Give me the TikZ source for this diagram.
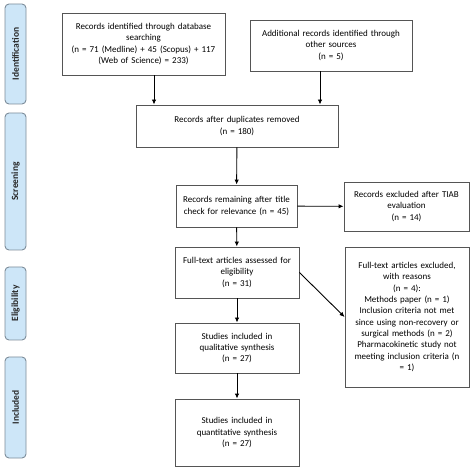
\documentclass[tikz,border=0pt]{standalone}
\usepackage{fontspec}
\setmainfont{Carlito}
\usepackage{xcolor}
\usepackage{tikz}
\usetikzlibrary{arrows.meta,positioning}
\definecolor{phasefill}{HTML}{CDE6F8}
\definecolor{phaseline}{HTML}{7D8C9A}
\definecolor{boxline}{HTML}{555555}
\tikzset{
  flowbox/.style={draw=boxline,line width=0.9pt,fill=white,align=center,inner sep=3pt,
    font=\fontsize{9}{11.3}\selectfont},
  phase/.style={draw=phaseline,line width=0.9pt,fill=phasefill,rounded corners=4pt,rotate=90,
    minimum height=21pt,inner sep=0pt,font=\fontsize{9.5}{11}\selectfont\bfseries,text=black!85},
  link/.style={-{Latex[length=5pt,width=4.5pt]},line width=0.9pt,black}
}

\begin{document}
\begin{tikzpicture}[x=1pt,y=-1pt]
  \useasboundingbox (0,0) rectangle (474,470);
  % phase labels down the left edge
  \node[phase,minimum width=100pt] (ident) at (15.5,54) {Identification};
  \node[phase,minimum width=137pt] (screen) at (15.5,181.5) {Screening};
  \node[phase,minimum width=73pt] (elig) at (15.5,303.5) {Eligibility};
  \node[phase,minimum width=101pt] (incl) at (15.5,407.5) {Included};

  % record boxes
  \node[flowbox,minimum width=163pt,minimum height=62pt,text width=157pt] (dbsearch) at (143.5,44)
    {Records identified through database\\searching\\(n = 71 (Medline) + 45 (Scopus) + 117\\(Web of Science) = 233)};
  \node[flowbox,minimum width=162pt,minimum height=51pt,text width=156pt] (other) at (331,45.5)
    {Additional records identified through\\other sources\\(n = 5)};
  \node[flowbox,minimum width=202pt,minimum height=42pt,text width=196pt] (dedup) at (237,126)
    {Records after duplicates removed\\(n = 180)};
  \node[flowbox,minimum width=121pt,minimum height=42pt,text width=115pt] (titlecheck) at (236.5,206)
    {Records remaining after title\\check for relevance (n = 45)};
  \node[flowbox,minimum width=125pt,minimum height=49pt,text width=119pt] (tiab) at (406.5,206.5)
    {Records excluded after TIAB\\evaluation\\(n = 14)};
  \node[flowbox,minimum width=124pt,minimum height=51pt,text width=118pt] (fulltext) at (237,272.5)
    {Full-text articles assessed for\\eligibility\\(n = 31)};
  \node[flowbox,minimum width=124pt,minimum height=140pt,text width=118pt] (ftexcl) at (407,317)
    {Full-text articles excluded,\\with reasons\\(n = 4):\\Methods paper (n = 1)\\Inclusion criteria not met\\since using non-recovery or\\surgical methods (n = 2)\\Pharmacokinetic study not\\meeting inclusion criteria (n\\= 1)\\[4pt]};
  \node[flowbox,minimum width=124pt,minimum height=50pt,text width=118pt] (qualit) at (237,348)
    {Studies included in\\qualitative synthesis\\(n = 27)};
  \node[flowbox,minimum width=124pt,minimum height=67pt,text width=118pt] (quantit) at (237,432.5)
    {Studies included in\\quantitative synthesis\\(n = 27)\\[14pt]};

  % connectors
  \draw[link] ([xshift=10.5pt]dbsearch.south) -- ([xshift=10.5pt]dbsearch.south |- dedup.north);
  \draw[link] ([xshift=-11pt]other.south) -- ([xshift=-11pt]other.south |- dedup.north);
  \draw[link] (dedup) -- (titlecheck);
  \draw[link] (titlecheck) -- (tiab);
  \draw[link] (titlecheck) -- (fulltext);
  \draw[link] (fulltext.east) -- (ftexcl.west);
  \draw[link] (fulltext) -- (qualit);
  \draw[link] (qualit) -- (quantit);
\end{tikzpicture}
\end{document}
